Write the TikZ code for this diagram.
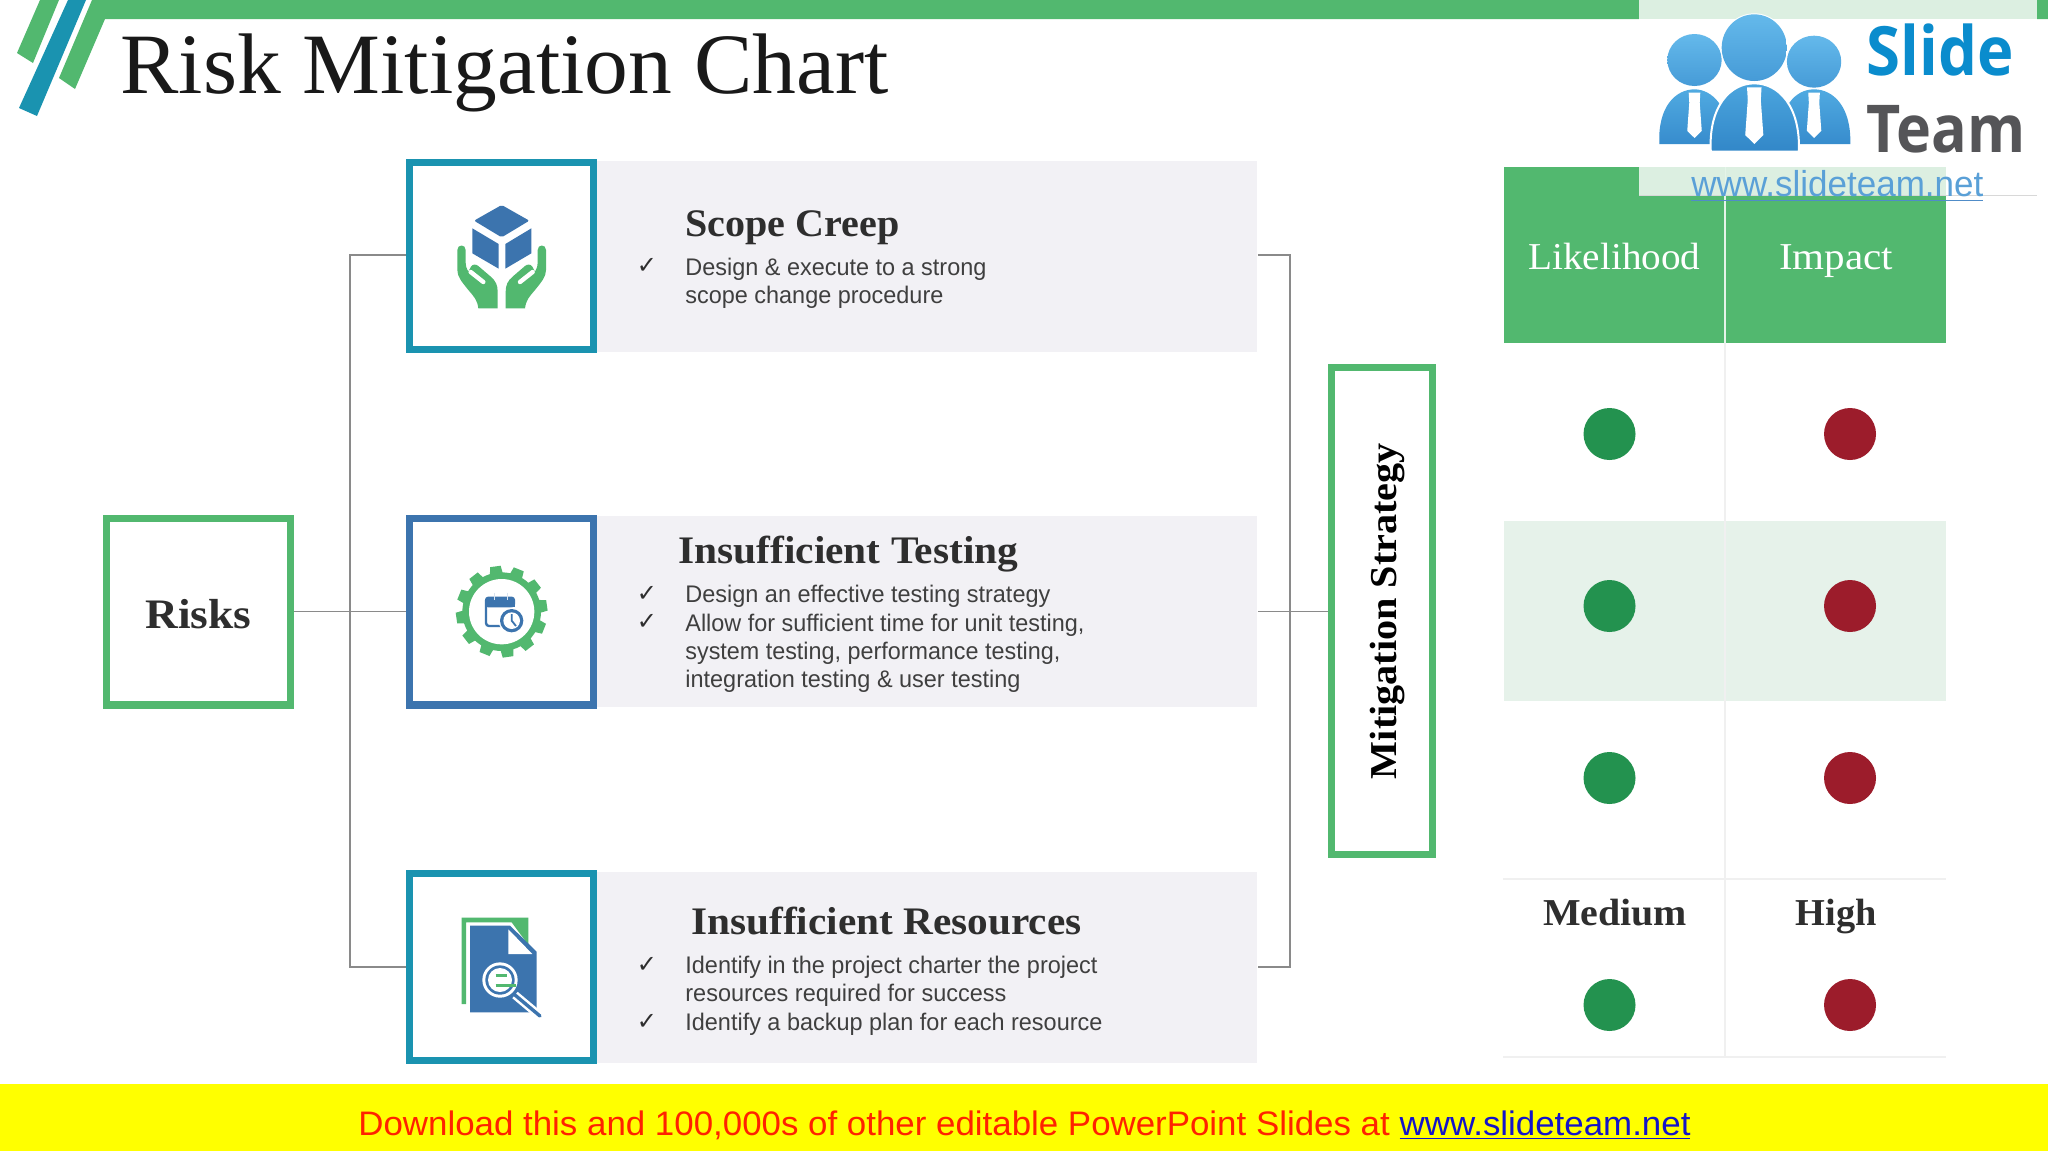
\documentclass[tikz,border=0pt]{standalone}
\usepackage{fontspec}
\usepackage{graphicx}
\setmainfont{Liberation Serif}
\newfontfamily\arsans{Liberation Sans}
\newfontfamily\djsans{DejaVu Sans}
\newfontfamily\opsans{Open Sans}
\newlength\pxu \setlength\pxu{0.5pt}
\newcommand\fw[2]{\resizebox{#1\pxu}{\height}{#2}}
\definecolor{gr}{HTML}{52B86F}
\definecolor{lgr}{HTML}{DCEFE1}
\definecolor{teal}{HTML}{1A93B0}
\definecolor{blu}{HTML}{3C74AE}
\definecolor{panel}{HTML}{F2F1F5}
\definecolor{band}{HTML}{E6F2EA}
\definecolor{dgr}{HTML}{23924F}
\definecolor{dred}{HTML}{9C1C2B}
\definecolor{grid}{HTML}{F0F0F0}
\definecolor{lnk}{HTML}{8A8A8A}
\definecolor{txt}{HTML}{3F3F3F}
\definecolor{hd}{HTML}{2E2E2E}
\definecolor{bodyT}{RGB}{80,170,225}
\definecolor{bodyB}{RGB}{55,140,205}
\definecolor{headT}{RGB}{100,185,235}
\definecolor{headB}{RGB}{70,155,215}
\definecolor{midT}{RGB}{75,165,222}
\definecolor{midB}{RGB}{50,135,200}
\definecolor{slidec}{RGB}{10,140,205}
\definecolor{teamc}{RGB}{85,85,88}
\definecolor{wwwc}{RGB}{90,160,215}
\definecolor{wwwu}{RGB}{80,140,200}
\definecolor{yelbar}{HTML}{FFFF00}
\definecolor{dlred}{HTML}{FF2200}
\definecolor{dlblue}{HTML}{1414C8}
\tikzset{
  x=0.5pt,y=-0.5pt,
  frame/.style={draw=#1,line width=3.65pt,fill=white,inner sep=0pt,minimum width=91.85pt,minimum height=93.35pt},
  panelbox/.style={fill=panel,inner sep=0pt,minimum width=330pt,minimum height=95.5pt,anchor=west},
  link/.style={draw=lnk,line width=0.65pt},
  body/.style={anchor=base west,inner sep=0pt,text=txt,font=\arsans\fontsize{12}{12}\selectfont},
  head/.style={anchor=base west,inner sep=0pt,text=hd,font=\bfseries\fontsize{19.5}{19.5}\selectfont},
  tick/.style={anchor=base,inner sep=0pt,text=hd,font=\djsans\fontsize{12}{12}\selectfont},
  dot/.style={circle,fill=#1,inner sep=0pt,minimum size=26pt},
  cell/.style={anchor=base,inner sep=0pt,font=\fontsize{19}{19}\selectfont},
  gridline/.style={draw=grid,line width=0.7pt},
}
\begin{document}
\begin{tikzpicture}
\useasboundingbox (0,0) rectangle (2048,1152);
\fill[white] (0,0) rectangle (2048,1152);
% top bar and accents
\fill[gr] (92,0) -- (2048,0) -- (2048,19) -- (105,19) -- (75,89) -- (59,78) -- cycle;
\fill[gr] (40,0) -- (59,0) -- (33,63) -- (17,53) -- cycle;
\fill[teal] (68,0) -- (86,0) -- (37,116) -- (19,108) -- cycle;
\node[anchor=base west,inner sep=0pt,text=black!90,font=\fontsize{43}{43}\selectfont] (title) at (120,93) {\fw{768}{Risk Mitigation Chart}};
% panels
\node[panelbox] (p1) at (597,256) {};
\node[panelbox] (p2) at (597,611.5) {};
\node[panelbox] (p3) at (597,967) {};
% frames
\node[frame=gr] (risks) at (198.5,611.5) {};
\node[frame=teal] (box1) at (501.5,256) {};
\node[frame=blu] (box2) at (501.5,611.5) {};
\node[frame=teal] (box3) at (501.5,967) {};
\node[draw=gr,line width=3.5pt,fill=white,inner sep=0pt,minimum width=50.5pt,minimum height=243.5pt] (mit) at (1382,611) {};
% connectors
\coordinate (lt) at (350,255);
\coordinate (lb) at (350,967);
\coordinate (rt) at (1290,255);
\coordinate (rb) at (1290,967);
\draw[link] (risks.east) -- (box2.west);
\draw[link] (box1.west |- lt) -- (lt) -- (lb) -- (box3.west);
\draw[link] (p1.east |- rt) -- (rt) -- (rb) -- (p3.east);
\draw[link] (p2.east) -- (mit.west |- p2.east);
% frame labels
\node[anchor=base,inner sep=0pt,text=hd,font=\bfseries\fontsize{21}{21}\selectfont] (risklbl) at (198.5,628) {\fw{106}{Risks}};
\node[anchor=base,inner sep=0pt,rotate=90,text=black,font=\bfseries\fontsize{19}{19}\selectfont] (mitlbl) at (1396,611) {\fw{336}{Mitigation Strategy}};
% icon 1
\begin{scope}[shift={(400,150)},scale=1/3]
\fill[blu,rounded corners=1pt] (222,212) -- (305,165) -- (388,212) -- (305,262) -- cycle;
\fill[blu] (217,235) -- (296,282) -- (296,356) -- (217,310) -- cycle;
\fill[blu] (316,282) -- (394,235) -- (394,310) -- (316,356) -- cycle;
\foreach \m/\o in {1/0,-1/610}{
\begin{scope}[shift={(\o,0)},xscale=\m]
\fill[gr] (172,300) .. controls (172,282) and (197,282) .. (197,300) -- (197,338) .. controls (197,355) and (205,368) .. (218,378) -- (238,395) -- (205,365) -- (213,350) .. controls (218,342) and (228,342) .. (235,348) -- (270,378) .. controls (287,392) and (293,405) .. (293,425) -- (293,475) -- (235,475) .. controls (232,450) and (222,440) .. (205,420) .. controls (185,395) and (172,380) .. (172,360) -- cycle;
\draw[white,line width=2.2pt,line cap=round] (212,366) -- (250,396);
\end{scope}}
\end{scope}
% icon 2
\begin{scope}[shift={(400,500)},scale=1/3]
\foreach \a in {0,30,...,330}{
\fill[gr,rotate around={\a+8:(305,335)}] (289,198) -- (321,198) -- (325,225) -- (285,225) -- cycle;
}
\fill[gr] (305,335) circle[radius=118];
\fill[white] (305,335) circle[radius=98];
\draw[blu,line width=1.2pt,rounded corners=1.5pt] (258,300) -- (258,378) -- (310,378);
\fill[blu,rounded corners=1.5pt] (255,290) rectangle (345,322);
\fill[blu] (255,312) rectangle (345,322);
\draw[white!80!blu,line width=0.6pt] (283,278) -- (283,300) (322,278) -- (322,300);
\fill[white] (335,362) circle[radius=39];
\fill[blu] (335,362) circle[radius=35];
\fill[white] (335,362) circle[radius=25];
\draw[blu,line width=0.9pt] (335,342) -- (335,362) -- (348,378);
\end{scope}
% icon 3
\begin{scope}[shift={(400,860)},scale=1/3]
\fill[gr] (185,173) -- (385,173) -- (385,255) -- (335,187) -- (198,187) -- (198,432) -- (185,432) -- cycle;
\fill[blu] (210,197) -- (330,197) -- (410,275) -- (410,457) -- (210,457) -- cycle;
\fill[white] (325,208) -- (397,282) -- (325,282) -- cycle;
\fill[white] (300,360) circle[radius=53];
\draw[white,line width=4.2pt] (345,405) -- (420,468);
\draw[blu,line width=1.7pt,line cap=round] (345,405) -- (420,468);
\fill[blu] (300,360) circle[radius=44];
\fill[white] (300,360) circle[radius=36];
\draw[gr,line width=1.3pt] (287,347) -- (322,347) (287,377) -- (347,377);
\end{scope}
% text block 1
\node[head] (h1) at (685,236) {\fw{214}{Scope Creep}};
\node[tick] (c1) at (647,273) {✓};
\node[body] (t1a) at (685,275) {\fw{301}{Design \& execute to a strong}};
\node[body] (t1b) at (685,303) {\fw{258}{scope change procedure}};
% text block 2
\node[head] (h2) at (678,563) {\fw{340}{Insufficient Testing}};
\node[tick] (c2) at (647,601) {✓};
\node[tick] (c3) at (647,629.5) {✓};
\node[body] (t2a) at (685,602.5) {\fw{365}{Design an effective testing strategy}};
\node[body] (t2b) at (685,631) {\fw{399}{Allow for sufficient time for unit testing,}};
\node[body] (t2c) at (685,659) {\fw{375}{system testing, performance testing,}};
\node[body] (t2d) at (685,687) {\fw{335}{integration testing \& user testing}};
% text block 3
\node[head] (h3) at (691,934) {\fw{390}{Insufficient Resources}};
\node[tick] (c4) at (647,972) {✓};
\node[tick] (c5) at (647,1029) {✓};
\node[body] (t3a) at (685,973) {\fw{412}{Identify in the project charter the project}};
\node[body] (t3b) at (685,1001) {\fw{321}{resources required for success}};
\node[body] (t3c) at (685,1030) {\fw{417}{Identify a backup plan for each resource}};
% table
\fill[band] (1503.5,521) rectangle (1946,701);
\fill[gr] (1503.5,167) rectangle (1946,343);
\draw[gridline] (1725,343) -- (1725,1057);
\draw[gridline] (1503,879) -- (1946,879);
\draw[gridline] (1503,1057) -- (1946,1057);
\draw[white!85!gr,line width=0.7pt] (1725,167) -- (1725,343);
\node[cell,text=white] (lk) at (1614.5,269.5) {\fw{172}{Likelihood}};
\node[cell,text=white] (im) at (1836,269.5) {\fw{114}{Impact}};
\node[cell,text=hd,font=\bfseries\fontsize{19}{19}\selectfont] (med) at (1615,925) {\fw{144}{Medium}};
\node[cell,text=hd,font=\bfseries\fontsize{19}{19}\selectfont] (hi) at (1836,925) {\fw{81}{High}};
\foreach \n/\y in {a/434,b/606,c/778,d/1005}{
  \node[dot=dgr] (g\n) at (1609.5,\y) {};
  \node[dot=dred] (r\n) at (1850,\y) {};
}
% logo
\fill[lgr] (1639,0) rectangle (2037,19);
\fill[white] (1639,19) rectangle (2037,167);
\fill[white] (1946,167) rectangle (2037,195);
\fill[lgr] (1639,167) rectangle (1946,195);
\fill[white!85!gr] (1725,167) rectangle (1726,195);
\draw[grid!90!black,line width=0.5pt] (1639,195) -- (2037,195);
\begin{scope}[shift={(1480,0)},xscale=1/2.76,yscale=1/3]
\shade[top color=bodyT,bottom color=bodyB] (495,432) .. controls (490,320) and (540,268) .. (592,268) .. controls (640,268) and (690,320) .. (690,432) -- cycle;
\shade[top color=bodyT,bottom color=bodyB] (825,432) .. controls (825,320) and (870,268) .. (922,268) .. controls (975,268) and (1025,320) .. (1022,432) -- cycle;
\shade[top color=headT,bottom color=headB] (592,180) ellipse[x radius=75,y radius=78];
\shade[top color=headT,bottom color=headB] (922,185) ellipse[x radius=75,y radius=78];
\fill[white] (757,143) ellipse[x radius=93,y radius=103];
\shade[top color=headT,bottom color=headB] (757,143) ellipse[x radius=90,y radius=100];
\path[draw=white,line width=1pt,top color=midT,bottom color=midB] (637,455) .. controls (630,320) and (690,250) .. (757,250) .. controls (825,250) and (885,320) .. (880,455) -- cycle;
\foreach \cx/\s/\t in {592/0.8/278,922/0.8/278,757/1/262}{
\begin{scope}[shift={(\cx,\t)}]
\fill[white] (-20*\s,0) -- (20*\s,0) -- (18*\s,38*\s) -- (25*\s,143*\s) -- (0,170*\s) -- (-25*\s,143*\s) -- (-18*\s,38*\s) -- cycle;
\end{scope}}
\end{scope}
\node[anchor=base west,inner sep=0pt,text=slidec,font=\opsans\bfseries\fontsize{34}{34}\selectfont] (slide) at (1866,75) {\fw{147}{Slide}};
\node[anchor=base west,inner sep=0pt,text=teamc,font=\opsans\bfseries\fontsize{33}{33}\selectfont] (team) at (1866,152) {\fw{159}{Team}};
\node[anchor=base west,inner sep=0pt,text=wwwc,font=\arsans\fontsize{18}{18}\selectfont] (www) at (1691,196) {\fw{292}{www.slideteam.net}};
\coordinate (ua) at (1691,200.5);
\coordinate (ub) at (1983,200.5);
\draw[wwwu,line width=0.9pt] (ua) -- (ub);
% bottom bar
\fill[yelbar] (0,1084) rectangle (2048,1151);
\node[anchor=base west,inner sep=0pt,font=\arsans\fontsize{17}{17}\selectfont] (dl) at (358,1135) {\fw{1332}{\textcolor{dlred}{Download this and 100,000s of other editable PowerPoint Slides at }\textcolor{dlblue}{\underline{www.slideteam.net}}}};
\end{tikzpicture}
\end{document}
